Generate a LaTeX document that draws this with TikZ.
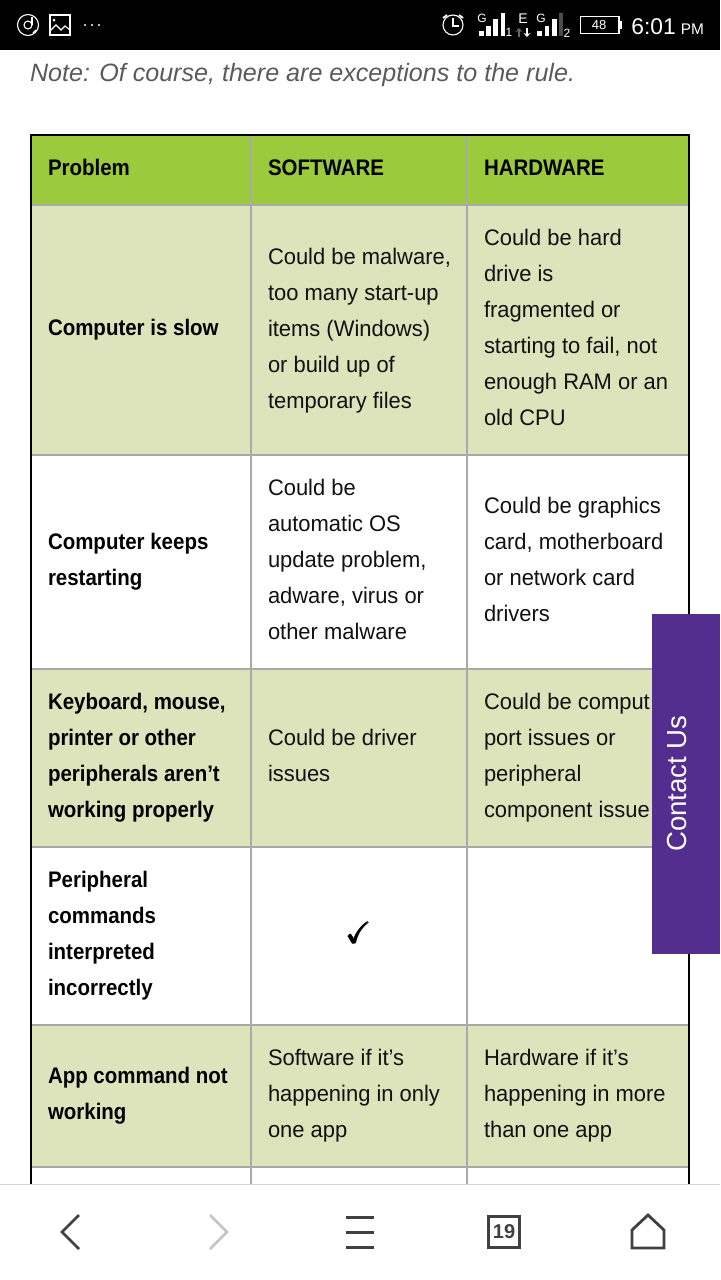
\documentclass[tikz,border=0pt]{standalone}
\usetikzlibrary{arrows.meta}
\usepackage{amsmath,amssymb}
\usepackage{fontspec}
\setmainfont{Liberation Sans}
\newfontfamily\bodyf[FakeStretch=0.975]{Liberation Sans}
\newfontfamily\boldf[FakeStretch=0.91]{Liberation Sans}
\definecolor{hdr}{HTML}{9BCA3C}
\definecolor{band}{HTML}{DDE3BA}
\definecolor{rule}{HTML}{A9A9A9}
\definecolor{ink}{HTML}{111111}
\definecolor{notegrey}{HTML}{5A5A5A}
\definecolor{purple}{HTML}{532E8E}
\definecolor{iconink}{HTML}{404040}
\definecolor{iconfade}{HTML}{C4C4C4}
\definecolor{sep}{HTML}{D4D4D4}
\tikzset{
 x=0.5pt,y=-0.5pt,
 body/.style={anchor=base west,inner sep=0pt,outer sep=0pt,yshift=0.5pt,font=\bodyf\fontsize{11.25pt}{13pt}\selectfont,text=ink},
 head/.style={body,font=\boldf\fontsize{11.25pt}{13pt}\selectfont\bfseries,text=black},
 grid/.style={draw=rule,line width=1pt},
 frame/.style={draw=black,line width=1pt},
 status/.style={draw=white,line width=0.55pt},
 navicon/.style={draw=iconink,line width=1.4pt},
 tiny/.style={anchor=center,inner sep=0pt,text=white,font=\fontsize{6pt}{7pt}\selectfont},
}
\begin{document}
\begin{tikzpicture}
\useasboundingbox (0,0) rectangle (720,1280);
\fill[white] (0,0) rectangle (720,1280);
% table fills
\fill[hdr] (31,135) rectangle (689,205);
\fill[band] (31,205) rectangle (689,455);
\fill[band] (31,669) rectangle (689,847);
\fill[band] (31,1025) rectangle (689,1167);
% grid
\foreach \y in {205,455,669,847,1025,1167} \draw[grid] (31,\y) -- (689,\y);
\foreach \x in {251,467} \draw[grid] (\x,135) -- (\x,1184);
\draw[frame] (31,1184) -- (31,135) -- (689,135) -- (689,1184);
% note
\node[body,font=\fontsize{12.55pt}{14pt}\selectfont\itshape,text=notegrey] (note) at (30,82) {Note: Of course, there are exceptions to the rule.};
% header
\node[head] (h1) at (48,176) {Problem};
\node[head] (h2) at (268,176) {SOFTWARE};
\node[head] (h3) at (484,176) {HARDWARE};
% col 1
\node[head] (a1) at (48,336) {Computer is slow};
\node[head] (a2a) at (48,550) {Computer keeps};
\node[head] (a2b) at (48,586) {restarting};
\node[head] (a3a) at (48,710) {Keyboard, mouse,};
\node[head] (a3b) at (48,746) {printer or other};
\node[head] (a3c) at (48,782) {peripherals aren’t};
\node[head] (a3d) at (48,818) {working properly};
\node[head] (a4a) at (48,888) {Peripheral};
\node[head] (a4b) at (48,924) {commands};
\node[head] (a4c) at (48,960) {interpreted};
\node[head] (a4d) at (48,996) {incorrectly};
\node[head] (a5a) at (48,1084) {App command not};
\node[head] (a5b) at (48,1120) {working};
% col 2
\node[body] (b1a) at (268,265) {Could be malware,};
\node[body] (b1b) at (268,301) {too many start-up};
\node[body] (b1c) at (268,337) {items (Windows)};
\node[body] (b1d) at (268,373) {or build up of};
\node[body] (b1e) at (268,409) {temporary files};
\node[body] (b2a) at (268,496) {Could be};
\node[body] (b2b) at (268,532) {automatic OS};
\node[body] (b2c) at (268,568) {update problem,};
\node[body] (b2d) at (268,604) {adware, virus or};
\node[body] (b2e) at (268,640) {other malware};
\node[body] (b3a) at (268,746) {Could be driver};
\node[body] (b3b) at (268,782) {issues};
\node[anchor=center,inner sep=0pt,text=black,font=\fontsize{15pt}{16pt}\selectfont] (b4) at (359,933) {$\pmb{\checkmark}$};
\node[body] (b5a) at (268,1066) {Software if it’s};
\node[body] (b5b) at (268,1102) {happening in only};
\node[body] (b5c) at (268,1138) {one app};
% col 3
\node[body] (c1a) at (484,246) {Could be hard};
\node[body] (c1b) at (484,282) {drive is};
\node[body] (c1c) at (484,318) {fragmented or};
\node[body] (c1d) at (484,354) {starting to fail, not};
\node[body] (c1e) at (484,390) {enough RAM or an};
\node[body] (c1f) at (484,426) {old CPU};
\node[body] (c2a) at (484,514) {Could be graphics};
\node[body] (c2b) at (484,550) {card, motherboard};
\node[body] (c2c) at (484,586) {or network card};
\node[body] (c2d) at (484,622) {drivers};
\node[body] (c3a) at (484,710) {Could be comput};
\node[body] (c3b) at (484,746) {port issues or};
\node[body] (c3c) at (484,782) {peripheral};
\node[body] (c3d) at (484,818) {component issue};
\node[body] (c5a) at (484,1066) {Hardware if it’s};
\node[body] (c5b) at (484,1102) {happening in more};
\node[body] (c5c) at (484,1138) {than one app};
% contact panel
\fill[purple] (652,614) rectangle (720,954);
\node[anchor=center,rotate=90,inner sep=0pt,text=white,font=\fontsize{13.8pt}{15pt}\selectfont] (contact) at (677,783.5) {Contact Us};
% status bar
\fill[black] (0,0) rectangle (720,50);
\draw[status] (28,25) circle (10.5);
\draw[status] (28,25) circle (4);
\draw[status] (32,25) -- (32,17);
\draw[status] (36,30) -- (33,33);
\draw[status] (50,15) rectangle (70,35);
\fill[white] (54,20) circle (1.5);
\draw[status] (50,31) -- (56,25) -- (61,30) -- (65,26) -- (70,30);
\foreach \x in {85,92,99} \fill[white] (\x,25) circle (1.2);
\draw[status] (453,25) circle (10);
\draw[status] (453,18) -- (453,26) -- (459,26);
\draw[status,line width=0.9pt] (443,18) -- (447,15);
\draw[status,line width=0.9pt] (463,18) -- (459,15);
\node[tiny] (g1) at (482,18) {G};
\fill[white] (479,31) rectangle (484,36);
\fill[white] (486,26) rectangle (491,36);
\fill[white] (493,19) rectangle (498,36);
\fill[white] (501,13) rectangle (505,36);
\node[tiny] (s1) at (509,32.5) {1};
\node[tiny,font=\fontsize{7pt}{8pt}\selectfont] (e1) at (523,19) {E};
\draw[white!40!black,line width=0.7pt,-{Stealth[length=2pt,width=3.5pt]}] (519,37) -- (519,28);
\draw[white,line width=0.7pt,-{Stealth[length=2pt,width=3.5pt]}] (527,28) -- (527,37);
\node[tiny] (g2) at (541,18) {G};
\fill[white] (537,31) rectangle (542,36);
\fill[white] (545,26) rectangle (549,36);
\fill[white] (552,19) rectangle (557,36);
\fill[white!30!black] (559,13) rectangle (563,36);
\node[tiny] (s2) at (567,33) {2};
\draw[status] (580.5,16.5) rectangle (619,33.5);
\fill[white] (619,21) rectangle (622,29);
\node[tiny,font=\fontsize{6.5pt}{7pt}\selectfont] (batt) at (599,25.5) {48};
\node[anchor=base west,inner sep=0pt,text=white,font=\fontsize{11.4pt}{14pt}\selectfont] (clock) at (631,34) {6:01\hspace{2.5pt}\fontsize{7.7pt}{10pt}\selectfont PM};
% bottom bar
\fill[white] (0,1184) rectangle (720,1280);
\draw[sep,line width=0.5pt] (0,1184.5) -- (720,1184.5);
\draw[navicon] (79,1215) -- (62,1232) -- (79,1249);
\draw[navicon,draw=iconfade] (210,1215) -- (227,1232) -- (210,1249);
\foreach \y in {1216,1231,1246} \fill[iconink] (346,\y) rectangle (374,\y+3);
\draw[navicon] (488.5,1216.5) rectangle (519.5,1247.5);
\node[anchor=center,inner sep=0pt,text=iconink,font=\fontsize{10pt}{11pt}\selectfont\bfseries] (tabs) at (504,1232) {19};
\draw[navicon] (632,1248) -- (632,1230) -- (648,1215) -- (664,1230) -- (664,1248) -- cycle;
\end{tikzpicture}
\end{document}
